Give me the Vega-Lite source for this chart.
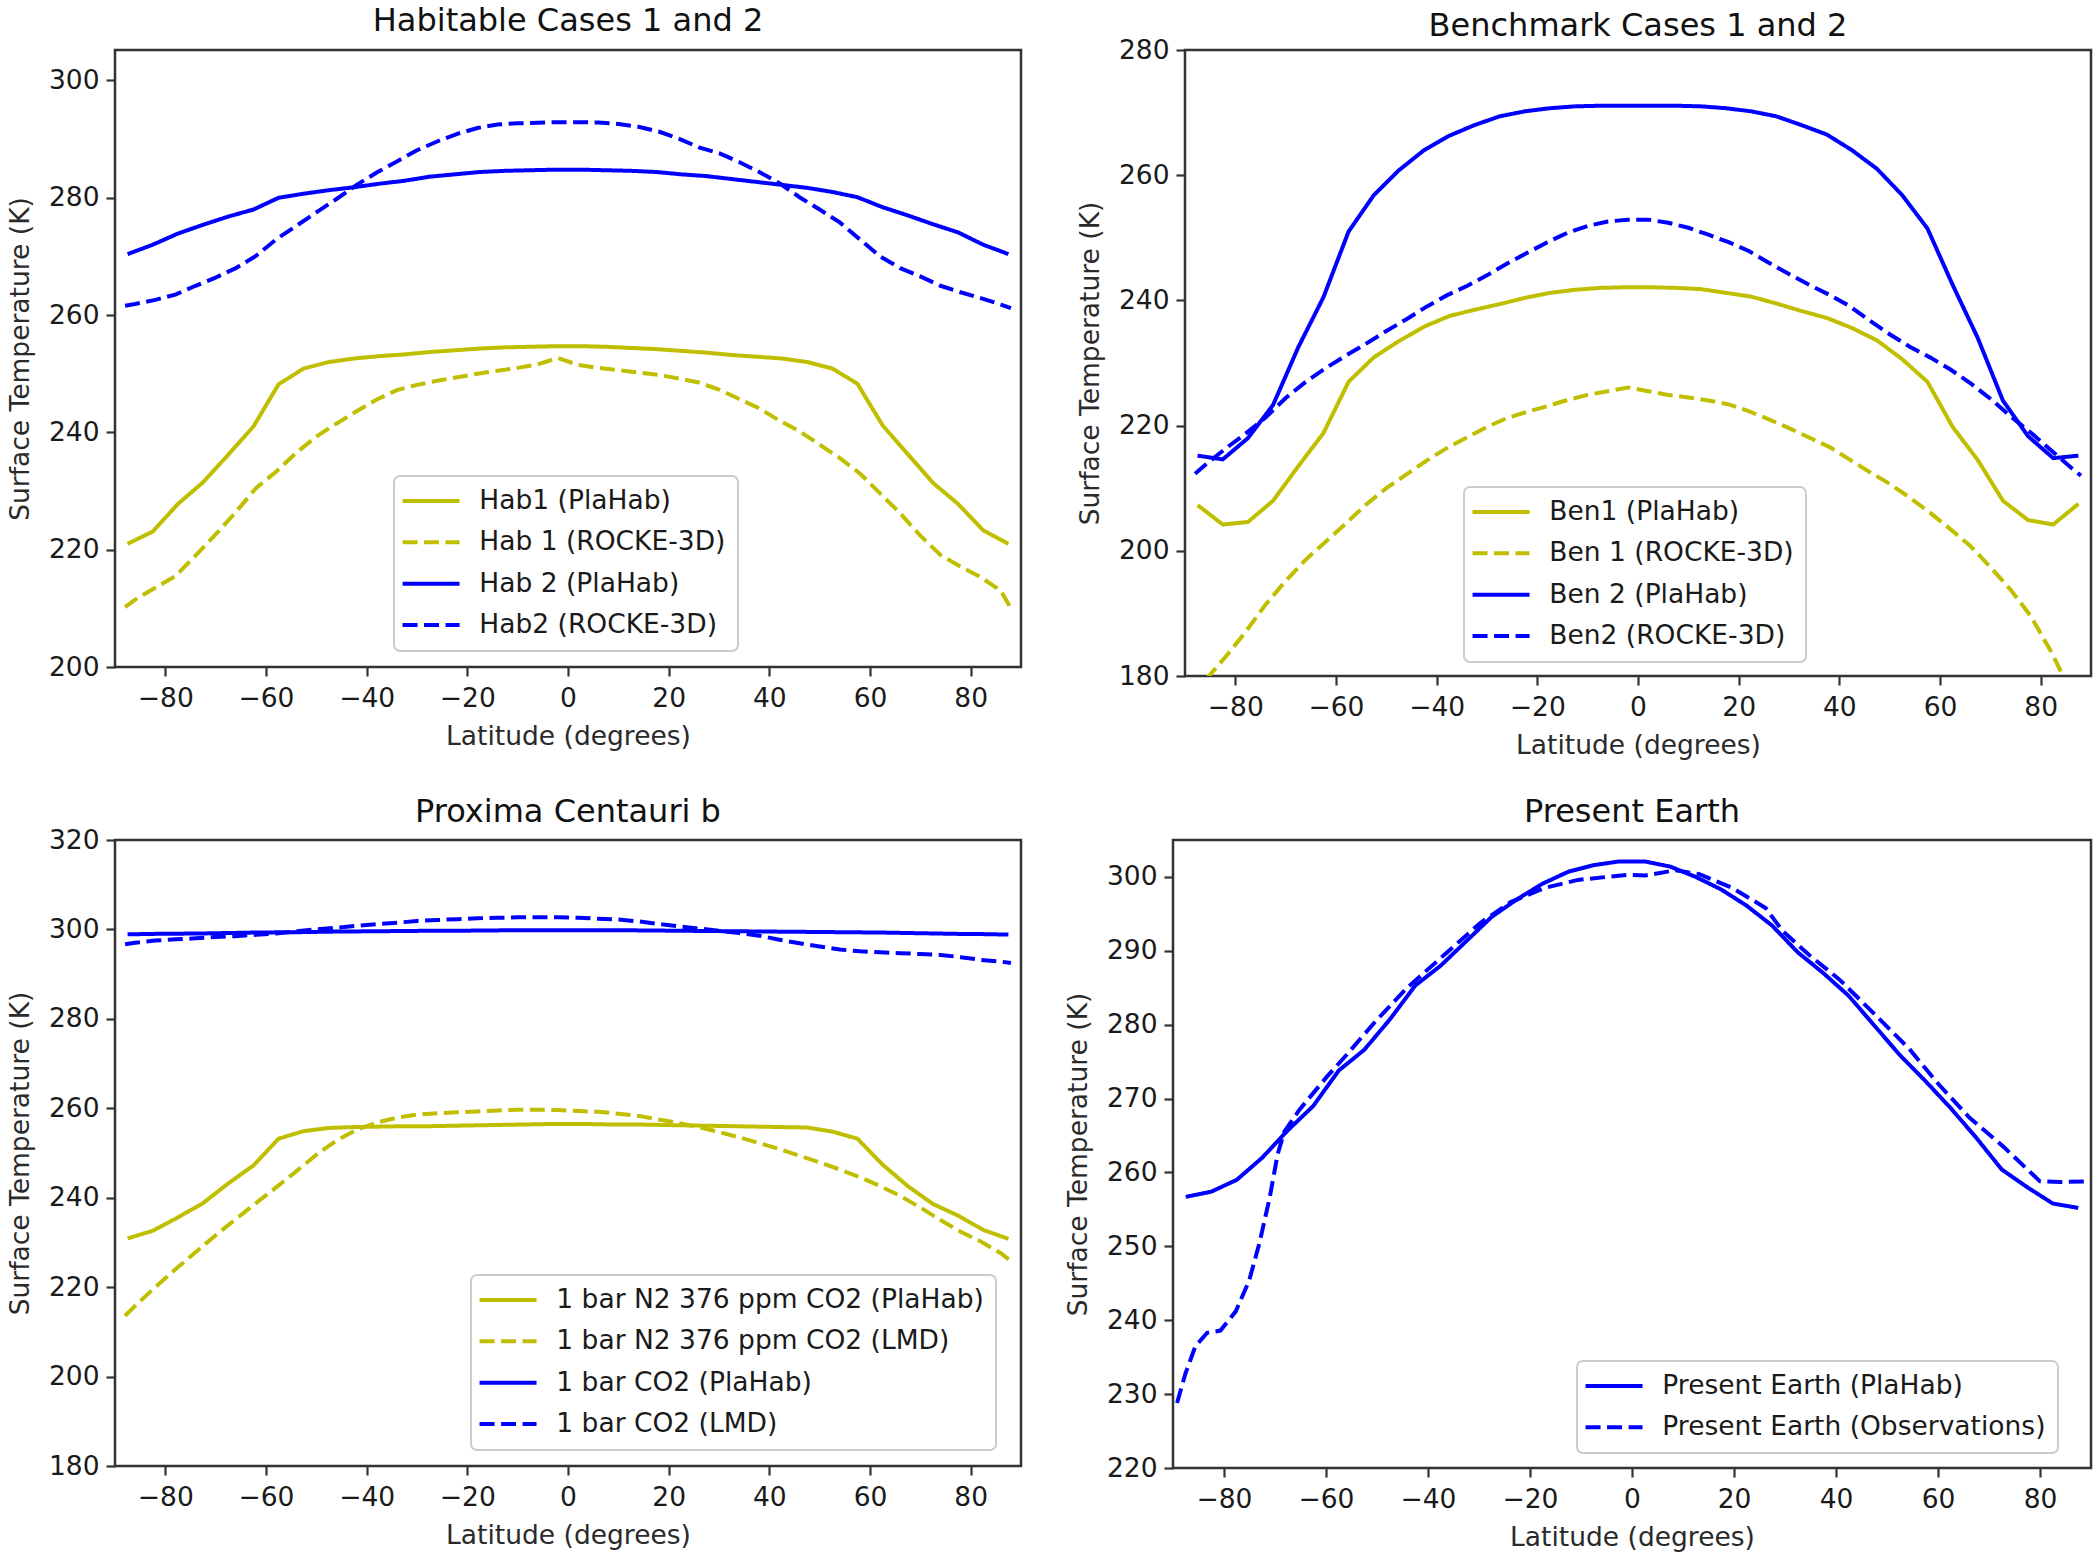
{
  "$schema": "https://vega.github.io/schema/vega-lite/v6.json",
  "background": "white",
  "padding": {"left": 6, "top": 3, "right": 2, "bottom": 2},
  "config": {
    "font": "DejaVu Sans",
    "view": {"stroke": "#333333", "strokeWidth": 2.5},
    "line": {"strokeWidth": 4, "clip": true},
    "axis": {"grid": false, "domain": false, "tickColor": "#333333", "tickWidth": 2.2, "tickSize": 9,
      "labelFont": "DejaVu Sans", "labelFontSize": 26.5, "labelColor": "#1a1a1a", "labelPadding": 7,
      "labelFlush": false, "labelOverlap": false,
      "titleFont": "DejaVu Sans", "titleFontSize": 26.5, "titleFontWeight": "normal", "titleColor": "#2a2a2a"},
    "axisX": {"titlePadding": 11, "labelPadding": 9.6},
    "axisY": {"titlePadding": 14},
    "title": {"font": "DejaVu Sans", "fontSize": 32, "fontWeight": "normal", "color": "#111111", "frame": "group", "anchor": "middle"},
    "legend": {"orient": "none", "labelFont": "DejaVu Sans", "labelFontSize": 26.5, "labelColor": "#1a1a1a", "labelLimit": 1000,
      "symbolType": "M-1,0H5", "symbolSize": 361, "symbolStrokeWidth": 4, "symbolOffset": -7, "labelOffset": 54,
      "rowPadding": 14.3, "padding": 11.8, "fillColor": "rgba(255,255,255,0.8)", "strokeColor": "#cccccc", "strokeWidth": 2, "cornerRadius": 6}
  },
  "datasets": {
    "hab": [
      {"s":"Hab1 (PlaHab)","lat":-87.5,"T":221.0},{"s":"Hab1 (PlaHab)","lat":-82.5,"T":223.1},{"s":"Hab1 (PlaHab)","lat":-77.5,"T":227.8},{"s":"Hab1 (PlaHab)","lat":-72.5,"T":231.5},{"s":"Hab1 (PlaHab)","lat":-67.5,"T":236.2},{"s":"Hab1 (PlaHab)","lat":-62.5,"T":241.0},{"s":"Hab1 (PlaHab)","lat":-57.5,"T":248.2},{"s":"Hab1 (PlaHab)","lat":-52.5,"T":250.9},{"s":"Hab1 (PlaHab)","lat":-47.5,"T":252.0},{"s":"Hab1 (PlaHab)","lat":-42.5,"T":252.6},{"s":"Hab1 (PlaHab)","lat":-37.5,"T":253.0},{"s":"Hab1 (PlaHab)","lat":-32.5,"T":253.3},{"s":"Hab1 (PlaHab)","lat":-27.5,"T":253.7},{"s":"Hab1 (PlaHab)","lat":-22.5,"T":254.0},{"s":"Hab1 (PlaHab)","lat":-17.5,"T":254.3},{"s":"Hab1 (PlaHab)","lat":-12.5,"T":254.5},{"s":"Hab1 (PlaHab)","lat":-7.5,"T":254.6},{"s":"Hab1 (PlaHab)","lat":-2.5,"T":254.7},
      {"s":"Hab1 (PlaHab)","lat":2.5,"T":254.7},{"s":"Hab1 (PlaHab)","lat":7.5,"T":254.6},{"s":"Hab1 (PlaHab)","lat":12.5,"T":254.4},{"s":"Hab1 (PlaHab)","lat":17.5,"T":254.2},{"s":"Hab1 (PlaHab)","lat":22.5,"T":253.9},{"s":"Hab1 (PlaHab)","lat":27.5,"T":253.6},{"s":"Hab1 (PlaHab)","lat":32.5,"T":253.2},{"s":"Hab1 (PlaHab)","lat":37.5,"T":252.9},{"s":"Hab1 (PlaHab)","lat":42.5,"T":252.6},{"s":"Hab1 (PlaHab)","lat":47.5,"T":252.0},{"s":"Hab1 (PlaHab)","lat":52.5,"T":250.9},{"s":"Hab1 (PlaHab)","lat":57.5,"T":248.3},{"s":"Hab1 (PlaHab)","lat":62.5,"T":241.2},{"s":"Hab1 (PlaHab)","lat":67.5,"T":236.3},{"s":"Hab1 (PlaHab)","lat":72.5,"T":231.4},{"s":"Hab1 (PlaHab)","lat":77.5,"T":227.8},{"s":"Hab1 (PlaHab)","lat":82.5,"T":223.3},{"s":"Hab1 (PlaHab)","lat":87.5,"T":221.0},

      {"s":"Hab 1 (ROCKE-3D)","lat":-88,"T":210.2},{"s":"Hab 1 (ROCKE-3D)","lat":-86,"T":211.5},{"s":"Hab 1 (ROCKE-3D)","lat":-82,"T":213.5},{"s":"Hab 1 (ROCKE-3D)","lat":-78,"T":215.5},{"s":"Hab 1 (ROCKE-3D)","lat":-74,"T":219.0},{"s":"Hab 1 (ROCKE-3D)","lat":-70,"T":222.6},{"s":"Hab 1 (ROCKE-3D)","lat":-66,"T":226.4},{"s":"Hab 1 (ROCKE-3D)","lat":-62,"T":230.5},{"s":"Hab 1 (ROCKE-3D)","lat":-58,"T":233.3},{"s":"Hab 1 (ROCKE-3D)","lat":-54,"T":236.5},{"s":"Hab 1 (ROCKE-3D)","lat":-50,"T":239.3},{"s":"Hab 1 (ROCKE-3D)","lat":-46,"T":241.5},{"s":"Hab 1 (ROCKE-3D)","lat":-42,"T":243.6},{"s":"Hab 1 (ROCKE-3D)","lat":-38,"T":245.6},{"s":"Hab 1 (ROCKE-3D)","lat":-34,"T":247.2},{"s":"Hab 1 (ROCKE-3D)","lat":-30,"T":248.1},{"s":"Hab 1 (ROCKE-3D)","lat":-26,"T":248.8},{"s":"Hab 1 (ROCKE-3D)","lat":-22,"T":249.4},{"s":"Hab 1 (ROCKE-3D)","lat":-18,"T":250.0},{"s":"Hab 1 (ROCKE-3D)","lat":-14,"T":250.5},{"s":"Hab 1 (ROCKE-3D)","lat":-10,"T":251.0},{"s":"Hab 1 (ROCKE-3D)","lat":-6,"T":251.6},{"s":"Hab 1 (ROCKE-3D)","lat":-2,"T":252.7},
      {"s":"Hab 1 (ROCKE-3D)","lat":2,"T":251.5},{"s":"Hab 1 (ROCKE-3D)","lat":6,"T":251.0},{"s":"Hab 1 (ROCKE-3D)","lat":10,"T":250.6},{"s":"Hab 1 (ROCKE-3D)","lat":14,"T":250.2},{"s":"Hab 1 (ROCKE-3D)","lat":18,"T":249.8},{"s":"Hab 1 (ROCKE-3D)","lat":22,"T":249.2},{"s":"Hab 1 (ROCKE-3D)","lat":26,"T":248.5},{"s":"Hab 1 (ROCKE-3D)","lat":30,"T":247.3},{"s":"Hab 1 (ROCKE-3D)","lat":34,"T":245.7},{"s":"Hab 1 (ROCKE-3D)","lat":38,"T":244.1},{"s":"Hab 1 (ROCKE-3D)","lat":42,"T":242.0},{"s":"Hab 1 (ROCKE-3D)","lat":46,"T":240.2},{"s":"Hab 1 (ROCKE-3D)","lat":50,"T":237.9},{"s":"Hab 1 (ROCKE-3D)","lat":54,"T":235.6},{"s":"Hab 1 (ROCKE-3D)","lat":58,"T":233.0},{"s":"Hab 1 (ROCKE-3D)","lat":62,"T":229.6},{"s":"Hab 1 (ROCKE-3D)","lat":66,"T":226.2},{"s":"Hab 1 (ROCKE-3D)","lat":70,"T":222.4},{"s":"Hab 1 (ROCKE-3D)","lat":74,"T":219.1},{"s":"Hab 1 (ROCKE-3D)","lat":78,"T":217.1},{"s":"Hab 1 (ROCKE-3D)","lat":82,"T":215.3},{"s":"Hab 1 (ROCKE-3D)","lat":86,"T":213.0},{"s":"Hab 1 (ROCKE-3D)","lat":88,"T":210.0},

      {"s":"Hab 2 (PlaHab)","lat":-87.5,"T":270.4},{"s":"Hab 2 (PlaHab)","lat":-82.5,"T":272.0},{"s":"Hab 2 (PlaHab)","lat":-77.5,"T":273.9},{"s":"Hab 2 (PlaHab)","lat":-72.5,"T":275.4},{"s":"Hab 2 (PlaHab)","lat":-67.5,"T":276.8},{"s":"Hab 2 (PlaHab)","lat":-62.5,"T":278.0},{"s":"Hab 2 (PlaHab)","lat":-57.5,"T":280.0},{"s":"Hab 2 (PlaHab)","lat":-52.5,"T":280.7},{"s":"Hab 2 (PlaHab)","lat":-47.5,"T":281.3},{"s":"Hab 2 (PlaHab)","lat":-42.5,"T":281.8},{"s":"Hab 2 (PlaHab)","lat":-37.5,"T":282.4},{"s":"Hab 2 (PlaHab)","lat":-32.5,"T":282.9},{"s":"Hab 2 (PlaHab)","lat":-27.5,"T":283.6},{"s":"Hab 2 (PlaHab)","lat":-22.5,"T":284.0},{"s":"Hab 2 (PlaHab)","lat":-17.5,"T":284.4},{"s":"Hab 2 (PlaHab)","lat":-12.5,"T":284.6},{"s":"Hab 2 (PlaHab)","lat":-7.5,"T":284.7},{"s":"Hab 2 (PlaHab)","lat":-2.5,"T":284.8},
      {"s":"Hab 2 (PlaHab)","lat":2.5,"T":284.8},{"s":"Hab 2 (PlaHab)","lat":7.5,"T":284.7},{"s":"Hab 2 (PlaHab)","lat":12.5,"T":284.6},{"s":"Hab 2 (PlaHab)","lat":17.5,"T":284.4},{"s":"Hab 2 (PlaHab)","lat":22.5,"T":284.0},{"s":"Hab 2 (PlaHab)","lat":27.5,"T":283.7},{"s":"Hab 2 (PlaHab)","lat":32.5,"T":283.2},{"s":"Hab 2 (PlaHab)","lat":37.5,"T":282.7},{"s":"Hab 2 (PlaHab)","lat":42.5,"T":282.2},{"s":"Hab 2 (PlaHab)","lat":47.5,"T":281.7},{"s":"Hab 2 (PlaHab)","lat":52.5,"T":281.0},{"s":"Hab 2 (PlaHab)","lat":57.5,"T":280.1},{"s":"Hab 2 (PlaHab)","lat":62.5,"T":278.4},{"s":"Hab 2 (PlaHab)","lat":67.5,"T":277.0},{"s":"Hab 2 (PlaHab)","lat":72.5,"T":275.5},{"s":"Hab 2 (PlaHab)","lat":77.5,"T":274.1},{"s":"Hab 2 (PlaHab)","lat":82.5,"T":272.0},{"s":"Hab 2 (PlaHab)","lat":87.5,"T":270.4},

      {"s":"Hab2 (ROCKE-3D)","lat":-88,"T":261.6},{"s":"Hab2 (ROCKE-3D)","lat":-86,"T":261.9},{"s":"Hab2 (ROCKE-3D)","lat":-82,"T":262.6},{"s":"Hab2 (ROCKE-3D)","lat":-78,"T":263.5},{"s":"Hab2 (ROCKE-3D)","lat":-74,"T":265.0},{"s":"Hab2 (ROCKE-3D)","lat":-70,"T":266.4},{"s":"Hab2 (ROCKE-3D)","lat":-66,"T":268.0},{"s":"Hab2 (ROCKE-3D)","lat":-62,"T":270.1},{"s":"Hab2 (ROCKE-3D)","lat":-58,"T":272.9},{"s":"Hab2 (ROCKE-3D)","lat":-54,"T":275.2},{"s":"Hab2 (ROCKE-3D)","lat":-50,"T":277.5},{"s":"Hab2 (ROCKE-3D)","lat":-46,"T":279.8},{"s":"Hab2 (ROCKE-3D)","lat":-42,"T":282.2},{"s":"Hab2 (ROCKE-3D)","lat":-38,"T":284.3},{"s":"Hab2 (ROCKE-3D)","lat":-34,"T":286.2},{"s":"Hab2 (ROCKE-3D)","lat":-30,"T":288.1},{"s":"Hab2 (ROCKE-3D)","lat":-26,"T":289.6},{"s":"Hab2 (ROCKE-3D)","lat":-22,"T":290.9},{"s":"Hab2 (ROCKE-3D)","lat":-18,"T":291.9},{"s":"Hab2 (ROCKE-3D)","lat":-14,"T":292.5},{"s":"Hab2 (ROCKE-3D)","lat":-10,"T":292.7},{"s":"Hab2 (ROCKE-3D)","lat":-6,"T":292.8},{"s":"Hab2 (ROCKE-3D)","lat":-2,"T":292.9},
      {"s":"Hab2 (ROCKE-3D)","lat":2,"T":292.9},{"s":"Hab2 (ROCKE-3D)","lat":6,"T":292.85},{"s":"Hab2 (ROCKE-3D)","lat":10,"T":292.6},{"s":"Hab2 (ROCKE-3D)","lat":14,"T":292.1},{"s":"Hab2 (ROCKE-3D)","lat":18,"T":291.3},{"s":"Hab2 (ROCKE-3D)","lat":22,"T":290.1},{"s":"Hab2 (ROCKE-3D)","lat":26,"T":288.6},{"s":"Hab2 (ROCKE-3D)","lat":30,"T":287.6},{"s":"Hab2 (ROCKE-3D)","lat":34,"T":286.1},{"s":"Hab2 (ROCKE-3D)","lat":38,"T":284.4},{"s":"Hab2 (ROCKE-3D)","lat":42,"T":282.5},{"s":"Hab2 (ROCKE-3D)","lat":46,"T":280.1},{"s":"Hab2 (ROCKE-3D)","lat":50,"T":278.0},{"s":"Hab2 (ROCKE-3D)","lat":54,"T":275.8},{"s":"Hab2 (ROCKE-3D)","lat":58,"T":272.9},{"s":"Hab2 (ROCKE-3D)","lat":62,"T":270.0},{"s":"Hab2 (ROCKE-3D)","lat":66,"T":268.0},{"s":"Hab2 (ROCKE-3D)","lat":70,"T":266.6},{"s":"Hab2 (ROCKE-3D)","lat":74,"T":265.0},{"s":"Hab2 (ROCKE-3D)","lat":78,"T":263.9},{"s":"Hab2 (ROCKE-3D)","lat":82,"T":262.9},{"s":"Hab2 (ROCKE-3D)","lat":86,"T":261.8},{"s":"Hab2 (ROCKE-3D)","lat":88,"T":261.2}
    ],
    "ben": [
      {"s":"Ben1 (PlaHab)","lat":-87.5,"T":207.3},{"s":"Ben1 (PlaHab)","lat":-82.5,"T":204.2},{"s":"Ben1 (PlaHab)","lat":-77.5,"T":204.6},{"s":"Ben1 (PlaHab)","lat":-72.5,"T":208.0},{"s":"Ben1 (PlaHab)","lat":-67.5,"T":213.5},{"s":"Ben1 (PlaHab)","lat":-62.5,"T":218.8},{"s":"Ben1 (PlaHab)","lat":-57.5,"T":227.0},{"s":"Ben1 (PlaHab)","lat":-52.5,"T":230.9},{"s":"Ben1 (PlaHab)","lat":-47.5,"T":233.5},{"s":"Ben1 (PlaHab)","lat":-42.5,"T":235.8},{"s":"Ben1 (PlaHab)","lat":-37.5,"T":237.5},{"s":"Ben1 (PlaHab)","lat":-32.5,"T":238.5},{"s":"Ben1 (PlaHab)","lat":-27.5,"T":239.4},{"s":"Ben1 (PlaHab)","lat":-22.5,"T":240.4},{"s":"Ben1 (PlaHab)","lat":-17.5,"T":241.2},{"s":"Ben1 (PlaHab)","lat":-12.5,"T":241.7},{"s":"Ben1 (PlaHab)","lat":-7.5,"T":242.0},{"s":"Ben1 (PlaHab)","lat":-2.5,"T":242.1},
      {"s":"Ben1 (PlaHab)","lat":2.5,"T":242.1},{"s":"Ben1 (PlaHab)","lat":7.5,"T":242.0},{"s":"Ben1 (PlaHab)","lat":12.5,"T":241.8},{"s":"Ben1 (PlaHab)","lat":17.5,"T":241.2},{"s":"Ben1 (PlaHab)","lat":22.5,"T":240.6},{"s":"Ben1 (PlaHab)","lat":27.5,"T":239.5},{"s":"Ben1 (PlaHab)","lat":32.5,"T":238.3},{"s":"Ben1 (PlaHab)","lat":37.5,"T":237.2},{"s":"Ben1 (PlaHab)","lat":42.5,"T":235.6},{"s":"Ben1 (PlaHab)","lat":47.5,"T":233.6},{"s":"Ben1 (PlaHab)","lat":52.5,"T":230.6},{"s":"Ben1 (PlaHab)","lat":57.5,"T":227.0},{"s":"Ben1 (PlaHab)","lat":62.5,"T":219.8},{"s":"Ben1 (PlaHab)","lat":67.5,"T":214.5},{"s":"Ben1 (PlaHab)","lat":72.5,"T":208.0},{"s":"Ben1 (PlaHab)","lat":77.5,"T":204.9},{"s":"Ben1 (PlaHab)","lat":82.5,"T":204.2},{"s":"Ben1 (PlaHab)","lat":87.5,"T":207.5},

      {"s":"Ben 1 (ROCKE-3D)","lat":-88,"T":176.5},{"s":"Ben 1 (ROCKE-3D)","lat":-86,"T":179.3},{"s":"Ben 1 (ROCKE-3D)","lat":-82,"T":183.0},{"s":"Ben 1 (ROCKE-3D)","lat":-78,"T":187.0},{"s":"Ben 1 (ROCKE-3D)","lat":-74,"T":191.4},{"s":"Ben 1 (ROCKE-3D)","lat":-70,"T":195.2},{"s":"Ben 1 (ROCKE-3D)","lat":-66,"T":198.6},{"s":"Ben 1 (ROCKE-3D)","lat":-62,"T":201.5},{"s":"Ben 1 (ROCKE-3D)","lat":-58,"T":204.4},{"s":"Ben 1 (ROCKE-3D)","lat":-54,"T":207.4},{"s":"Ben 1 (ROCKE-3D)","lat":-50,"T":210.0},{"s":"Ben 1 (ROCKE-3D)","lat":-46,"T":212.2},{"s":"Ben 1 (ROCKE-3D)","lat":-42,"T":214.4},{"s":"Ben 1 (ROCKE-3D)","lat":-38,"T":216.4},{"s":"Ben 1 (ROCKE-3D)","lat":-34,"T":218.1},{"s":"Ben 1 (ROCKE-3D)","lat":-30,"T":219.8},{"s":"Ben 1 (ROCKE-3D)","lat":-26,"T":221.2},{"s":"Ben 1 (ROCKE-3D)","lat":-22,"T":222.2},{"s":"Ben 1 (ROCKE-3D)","lat":-18,"T":223.1},{"s":"Ben 1 (ROCKE-3D)","lat":-14,"T":224.1},{"s":"Ben 1 (ROCKE-3D)","lat":-10,"T":224.9},{"s":"Ben 1 (ROCKE-3D)","lat":-6,"T":225.5},{"s":"Ben 1 (ROCKE-3D)","lat":-2,"T":226.1},
      {"s":"Ben 1 (ROCKE-3D)","lat":2,"T":225.5},{"s":"Ben 1 (ROCKE-3D)","lat":6,"T":224.9},{"s":"Ben 1 (ROCKE-3D)","lat":10,"T":224.5},{"s":"Ben 1 (ROCKE-3D)","lat":14,"T":224.0},{"s":"Ben 1 (ROCKE-3D)","lat":18,"T":223.4},{"s":"Ben 1 (ROCKE-3D)","lat":22,"T":222.3},{"s":"Ben 1 (ROCKE-3D)","lat":26,"T":221.0},{"s":"Ben 1 (ROCKE-3D)","lat":30,"T":219.6},{"s":"Ben 1 (ROCKE-3D)","lat":34,"T":218.1},{"s":"Ben 1 (ROCKE-3D)","lat":38,"T":216.6},{"s":"Ben 1 (ROCKE-3D)","lat":42,"T":214.6},{"s":"Ben 1 (ROCKE-3D)","lat":46,"T":212.6},{"s":"Ben 1 (ROCKE-3D)","lat":50,"T":210.7},{"s":"Ben 1 (ROCKE-3D)","lat":54,"T":208.5},{"s":"Ben 1 (ROCKE-3D)","lat":58,"T":206.1},{"s":"Ben 1 (ROCKE-3D)","lat":62,"T":203.5},{"s":"Ben 1 (ROCKE-3D)","lat":66,"T":200.8},{"s":"Ben 1 (ROCKE-3D)","lat":70,"T":197.4},{"s":"Ben 1 (ROCKE-3D)","lat":74,"T":193.8},{"s":"Ben 1 (ROCKE-3D)","lat":78,"T":189.6},{"s":"Ben 1 (ROCKE-3D)","lat":82,"T":184.0},{"s":"Ben 1 (ROCKE-3D)","lat":86,"T":177.5},{"s":"Ben 1 (ROCKE-3D)","lat":88,"T":173.5},

      {"s":"Ben 2 (PlaHab)","lat":-87.5,"T":215.2},{"s":"Ben 2 (PlaHab)","lat":-82.5,"T":214.6},{"s":"Ben 2 (PlaHab)","lat":-77.5,"T":218.0},{"s":"Ben 2 (PlaHab)","lat":-72.5,"T":223.3},{"s":"Ben 2 (PlaHab)","lat":-67.5,"T":232.5},{"s":"Ben 2 (PlaHab)","lat":-62.5,"T":240.5},{"s":"Ben 2 (PlaHab)","lat":-57.5,"T":251.0},{"s":"Ben 2 (PlaHab)","lat":-52.5,"T":256.8},{"s":"Ben 2 (PlaHab)","lat":-47.5,"T":260.8},{"s":"Ben 2 (PlaHab)","lat":-42.5,"T":264.0},{"s":"Ben 2 (PlaHab)","lat":-37.5,"T":266.3},{"s":"Ben 2 (PlaHab)","lat":-32.5,"T":268.0},{"s":"Ben 2 (PlaHab)","lat":-27.5,"T":269.4},{"s":"Ben 2 (PlaHab)","lat":-22.5,"T":270.2},{"s":"Ben 2 (PlaHab)","lat":-17.5,"T":270.7},{"s":"Ben 2 (PlaHab)","lat":-12.5,"T":271.0},{"s":"Ben 2 (PlaHab)","lat":-7.5,"T":271.1},{"s":"Ben 2 (PlaHab)","lat":-2.5,"T":271.1},
      {"s":"Ben 2 (PlaHab)","lat":2.5,"T":271.1},{"s":"Ben 2 (PlaHab)","lat":7.5,"T":271.1},{"s":"Ben 2 (PlaHab)","lat":12.5,"T":271.0},{"s":"Ben 2 (PlaHab)","lat":17.5,"T":270.7},{"s":"Ben 2 (PlaHab)","lat":22.5,"T":270.2},{"s":"Ben 2 (PlaHab)","lat":27.5,"T":269.4},{"s":"Ben 2 (PlaHab)","lat":32.5,"T":268.0},{"s":"Ben 2 (PlaHab)","lat":37.5,"T":266.5},{"s":"Ben 2 (PlaHab)","lat":42.5,"T":264.0},{"s":"Ben 2 (PlaHab)","lat":47.5,"T":261.0},{"s":"Ben 2 (PlaHab)","lat":52.5,"T":256.8},{"s":"Ben 2 (PlaHab)","lat":57.5,"T":251.5},{"s":"Ben 2 (PlaHab)","lat":62.5,"T":242.5},{"s":"Ben 2 (PlaHab)","lat":67.5,"T":234.0},{"s":"Ben 2 (PlaHab)","lat":72.5,"T":224.0},{"s":"Ben 2 (PlaHab)","lat":77.5,"T":218.3},{"s":"Ben 2 (PlaHab)","lat":82.5,"T":214.8},{"s":"Ben 2 (PlaHab)","lat":87.5,"T":215.2},

      {"s":"Ben2 (ROCKE-3D)","lat":-88,"T":212.3},{"s":"Ben2 (ROCKE-3D)","lat":-86,"T":213.7},{"s":"Ben2 (ROCKE-3D)","lat":-82,"T":216.3},{"s":"Ben2 (ROCKE-3D)","lat":-78,"T":218.7},{"s":"Ben2 (ROCKE-3D)","lat":-74,"T":221.3},{"s":"Ben2 (ROCKE-3D)","lat":-70,"T":224.4},{"s":"Ben2 (ROCKE-3D)","lat":-66,"T":227.0},{"s":"Ben2 (ROCKE-3D)","lat":-62,"T":229.2},{"s":"Ben2 (ROCKE-3D)","lat":-58,"T":231.2},{"s":"Ben2 (ROCKE-3D)","lat":-54,"T":233.1},{"s":"Ben2 (ROCKE-3D)","lat":-50,"T":235.1},{"s":"Ben2 (ROCKE-3D)","lat":-46,"T":237.0},{"s":"Ben2 (ROCKE-3D)","lat":-42,"T":239.0},{"s":"Ben2 (ROCKE-3D)","lat":-38,"T":240.8},{"s":"Ben2 (ROCKE-3D)","lat":-34,"T":242.3},{"s":"Ben2 (ROCKE-3D)","lat":-30,"T":244.0},{"s":"Ben2 (ROCKE-3D)","lat":-26,"T":245.9},{"s":"Ben2 (ROCKE-3D)","lat":-22,"T":247.6},{"s":"Ben2 (ROCKE-3D)","lat":-18,"T":249.3},{"s":"Ben2 (ROCKE-3D)","lat":-14,"T":250.8},{"s":"Ben2 (ROCKE-3D)","lat":-10,"T":251.9},{"s":"Ben2 (ROCKE-3D)","lat":-6,"T":252.6},{"s":"Ben2 (ROCKE-3D)","lat":-2,"T":252.9},
      {"s":"Ben2 (ROCKE-3D)","lat":2,"T":252.9},{"s":"Ben2 (ROCKE-3D)","lat":6,"T":252.4},{"s":"Ben2 (ROCKE-3D)","lat":10,"T":251.6},{"s":"Ben2 (ROCKE-3D)","lat":14,"T":250.5},{"s":"Ben2 (ROCKE-3D)","lat":18,"T":249.3},{"s":"Ben2 (ROCKE-3D)","lat":22,"T":247.9},{"s":"Ben2 (ROCKE-3D)","lat":26,"T":246.0},{"s":"Ben2 (ROCKE-3D)","lat":30,"T":244.2},{"s":"Ben2 (ROCKE-3D)","lat":34,"T":242.5},{"s":"Ben2 (ROCKE-3D)","lat":38,"T":240.9},{"s":"Ben2 (ROCKE-3D)","lat":42,"T":239.1},{"s":"Ben2 (ROCKE-3D)","lat":46,"T":236.8},{"s":"Ben2 (ROCKE-3D)","lat":50,"T":234.6},{"s":"Ben2 (ROCKE-3D)","lat":54,"T":232.6},{"s":"Ben2 (ROCKE-3D)","lat":58,"T":230.9},{"s":"Ben2 (ROCKE-3D)","lat":62,"T":229.0},{"s":"Ben2 (ROCKE-3D)","lat":66,"T":226.8},{"s":"Ben2 (ROCKE-3D)","lat":70,"T":224.3},{"s":"Ben2 (ROCKE-3D)","lat":74,"T":221.5},{"s":"Ben2 (ROCKE-3D)","lat":78,"T":218.9},{"s":"Ben2 (ROCKE-3D)","lat":82,"T":216.1},{"s":"Ben2 (ROCKE-3D)","lat":86,"T":213.3},{"s":"Ben2 (ROCKE-3D)","lat":88,"T":212.0}
    ],
    "prox": [
      {"s":"1 bar N2 376 ppm CO2 (PlaHab)","lat":-87.5,"T":230.9},{"s":"1 bar N2 376 ppm CO2 (PlaHab)","lat":-82.5,"T":232.6},{"s":"1 bar N2 376 ppm CO2 (PlaHab)","lat":-77.5,"T":235.6},{"s":"1 bar N2 376 ppm CO2 (PlaHab)","lat":-72.5,"T":238.8},{"s":"1 bar N2 376 ppm CO2 (PlaHab)","lat":-67.5,"T":243.2},{"s":"1 bar N2 376 ppm CO2 (PlaHab)","lat":-62.5,"T":247.2},{"s":"1 bar N2 376 ppm CO2 (PlaHab)","lat":-57.5,"T":253.2},{"s":"1 bar N2 376 ppm CO2 (PlaHab)","lat":-52.5,"T":254.9},{"s":"1 bar N2 376 ppm CO2 (PlaHab)","lat":-47.5,"T":255.6},{"s":"1 bar N2 376 ppm CO2 (PlaHab)","lat":-42.5,"T":255.8},{"s":"1 bar N2 376 ppm CO2 (PlaHab)","lat":-37.5,"T":255.9},{"s":"1 bar N2 376 ppm CO2 (PlaHab)","lat":-32.5,"T":256.0},{"s":"1 bar N2 376 ppm CO2 (PlaHab)","lat":-27.5,"T":256.0},{"s":"1 bar N2 376 ppm CO2 (PlaHab)","lat":-22.5,"T":256.1},{"s":"1 bar N2 376 ppm CO2 (PlaHab)","lat":-17.5,"T":256.2},{"s":"1 bar N2 376 ppm CO2 (PlaHab)","lat":-12.5,"T":256.3},{"s":"1 bar N2 376 ppm CO2 (PlaHab)","lat":-7.5,"T":256.4},{"s":"1 bar N2 376 ppm CO2 (PlaHab)","lat":-2.5,"T":256.5},
      {"s":"1 bar N2 376 ppm CO2 (PlaHab)","lat":2.5,"T":256.5},{"s":"1 bar N2 376 ppm CO2 (PlaHab)","lat":7.5,"T":256.4},{"s":"1 bar N2 376 ppm CO2 (PlaHab)","lat":12.5,"T":256.4},{"s":"1 bar N2 376 ppm CO2 (PlaHab)","lat":17.5,"T":256.3},{"s":"1 bar N2 376 ppm CO2 (PlaHab)","lat":22.5,"T":256.2},{"s":"1 bar N2 376 ppm CO2 (PlaHab)","lat":27.5,"T":256.1},{"s":"1 bar N2 376 ppm CO2 (PlaHab)","lat":32.5,"T":256.0},{"s":"1 bar N2 376 ppm CO2 (PlaHab)","lat":37.5,"T":255.9},{"s":"1 bar N2 376 ppm CO2 (PlaHab)","lat":42.5,"T":255.8},{"s":"1 bar N2 376 ppm CO2 (PlaHab)","lat":47.5,"T":255.7},{"s":"1 bar N2 376 ppm CO2 (PlaHab)","lat":52.5,"T":254.8},{"s":"1 bar N2 376 ppm CO2 (PlaHab)","lat":57.5,"T":253.2},{"s":"1 bar N2 376 ppm CO2 (PlaHab)","lat":62.5,"T":247.4},{"s":"1 bar N2 376 ppm CO2 (PlaHab)","lat":67.5,"T":242.6},{"s":"1 bar N2 376 ppm CO2 (PlaHab)","lat":72.5,"T":238.6},{"s":"1 bar N2 376 ppm CO2 (PlaHab)","lat":77.5,"T":236.0},{"s":"1 bar N2 376 ppm CO2 (PlaHab)","lat":82.5,"T":232.8},{"s":"1 bar N2 376 ppm CO2 (PlaHab)","lat":87.5,"T":230.8},

      {"s":"1 bar N2 376 ppm CO2 (LMD)","lat":-88,"T":213.6},{"s":"1 bar N2 376 ppm CO2 (LMD)","lat":-86,"T":215.8},{"s":"1 bar N2 376 ppm CO2 (LMD)","lat":-82,"T":220.0},{"s":"1 bar N2 376 ppm CO2 (LMD)","lat":-78,"T":224.0},{"s":"1 bar N2 376 ppm CO2 (LMD)","lat":-74,"T":227.8},{"s":"1 bar N2 376 ppm CO2 (LMD)","lat":-70,"T":231.6},{"s":"1 bar N2 376 ppm CO2 (LMD)","lat":-66,"T":235.2},{"s":"1 bar N2 376 ppm CO2 (LMD)","lat":-62,"T":238.8},{"s":"1 bar N2 376 ppm CO2 (LMD)","lat":-58,"T":242.3},{"s":"1 bar N2 376 ppm CO2 (LMD)","lat":-54,"T":245.9},{"s":"1 bar N2 376 ppm CO2 (LMD)","lat":-50,"T":249.6},{"s":"1 bar N2 376 ppm CO2 (LMD)","lat":-46,"T":252.8},{"s":"1 bar N2 376 ppm CO2 (LMD)","lat":-42,"T":255.2},{"s":"1 bar N2 376 ppm CO2 (LMD)","lat":-38,"T":256.8},{"s":"1 bar N2 376 ppm CO2 (LMD)","lat":-34,"T":257.9},{"s":"1 bar N2 376 ppm CO2 (LMD)","lat":-30,"T":258.6},{"s":"1 bar N2 376 ppm CO2 (LMD)","lat":-26,"T":258.9},{"s":"1 bar N2 376 ppm CO2 (LMD)","lat":-22,"T":259.1},{"s":"1 bar N2 376 ppm CO2 (LMD)","lat":-18,"T":259.3},{"s":"1 bar N2 376 ppm CO2 (LMD)","lat":-14,"T":259.5},{"s":"1 bar N2 376 ppm CO2 (LMD)","lat":-10,"T":259.7},{"s":"1 bar N2 376 ppm CO2 (LMD)","lat":-6,"T":259.7},{"s":"1 bar N2 376 ppm CO2 (LMD)","lat":-2,"T":259.6},
      {"s":"1 bar N2 376 ppm CO2 (LMD)","lat":2,"T":259.4},{"s":"1 bar N2 376 ppm CO2 (LMD)","lat":6,"T":259.2},{"s":"1 bar N2 376 ppm CO2 (LMD)","lat":10,"T":258.8},{"s":"1 bar N2 376 ppm CO2 (LMD)","lat":14,"T":258.3},{"s":"1 bar N2 376 ppm CO2 (LMD)","lat":18,"T":257.5},{"s":"1 bar N2 376 ppm CO2 (LMD)","lat":22,"T":256.7},{"s":"1 bar N2 376 ppm CO2 (LMD)","lat":26,"T":255.8},{"s":"1 bar N2 376 ppm CO2 (LMD)","lat":30,"T":254.7},{"s":"1 bar N2 376 ppm CO2 (LMD)","lat":34,"T":253.5},{"s":"1 bar N2 376 ppm CO2 (LMD)","lat":38,"T":252.2},{"s":"1 bar N2 376 ppm CO2 (LMD)","lat":42,"T":250.9},{"s":"1 bar N2 376 ppm CO2 (LMD)","lat":46,"T":249.4},{"s":"1 bar N2 376 ppm CO2 (LMD)","lat":50,"T":247.9},{"s":"1 bar N2 376 ppm CO2 (LMD)","lat":54,"T":246.3},{"s":"1 bar N2 376 ppm CO2 (LMD)","lat":58,"T":244.6},{"s":"1 bar N2 376 ppm CO2 (LMD)","lat":62,"T":242.6},{"s":"1 bar N2 376 ppm CO2 (LMD)","lat":66,"T":240.4},{"s":"1 bar N2 376 ppm CO2 (LMD)","lat":70,"T":237.8},{"s":"1 bar N2 376 ppm CO2 (LMD)","lat":74,"T":235.0},{"s":"1 bar N2 376 ppm CO2 (LMD)","lat":78,"T":232.4},{"s":"1 bar N2 376 ppm CO2 (LMD)","lat":82,"T":230.2},{"s":"1 bar N2 376 ppm CO2 (LMD)","lat":86,"T":227.6},{"s":"1 bar N2 376 ppm CO2 (LMD)","lat":88,"T":225.8},

      {"s":"1 bar CO2 (PlaHab)","lat":-87.5,"T":298.9},{"s":"1 bar CO2 (PlaHab)","lat":-82.5,"T":299.0},{"s":"1 bar CO2 (PlaHab)","lat":-77.5,"T":299.05},{"s":"1 bar CO2 (PlaHab)","lat":-72.5,"T":299.1},{"s":"1 bar CO2 (PlaHab)","lat":-67.5,"T":299.2},{"s":"1 bar CO2 (PlaHab)","lat":-62.5,"T":299.3},{"s":"1 bar CO2 (PlaHab)","lat":-57.5,"T":299.35},{"s":"1 bar CO2 (PlaHab)","lat":-52.5,"T":299.4},{"s":"1 bar CO2 (PlaHab)","lat":-47.5,"T":299.5},{"s":"1 bar CO2 (PlaHab)","lat":-42.5,"T":299.55},{"s":"1 bar CO2 (PlaHab)","lat":-37.5,"T":299.6},{"s":"1 bar CO2 (PlaHab)","lat":-32.5,"T":299.65},{"s":"1 bar CO2 (PlaHab)","lat":-27.5,"T":299.7},{"s":"1 bar CO2 (PlaHab)","lat":-22.5,"T":299.7},{"s":"1 bar CO2 (PlaHab)","lat":-17.5,"T":299.75},{"s":"1 bar CO2 (PlaHab)","lat":-12.5,"T":299.8},{"s":"1 bar CO2 (PlaHab)","lat":-7.5,"T":299.8},{"s":"1 bar CO2 (PlaHab)","lat":-2.5,"T":299.8},
      {"s":"1 bar CO2 (PlaHab)","lat":2.5,"T":299.8},{"s":"1 bar CO2 (PlaHab)","lat":7.5,"T":299.8},{"s":"1 bar CO2 (PlaHab)","lat":12.5,"T":299.8},{"s":"1 bar CO2 (PlaHab)","lat":17.5,"T":299.75},{"s":"1 bar CO2 (PlaHab)","lat":22.5,"T":299.7},{"s":"1 bar CO2 (PlaHab)","lat":27.5,"T":299.65},{"s":"1 bar CO2 (PlaHab)","lat":32.5,"T":299.6},{"s":"1 bar CO2 (PlaHab)","lat":37.5,"T":299.55},{"s":"1 bar CO2 (PlaHab)","lat":42.5,"T":299.5},{"s":"1 bar CO2 (PlaHab)","lat":47.5,"T":299.45},{"s":"1 bar CO2 (PlaHab)","lat":52.5,"T":299.4},{"s":"1 bar CO2 (PlaHab)","lat":57.5,"T":299.35},{"s":"1 bar CO2 (PlaHab)","lat":62.5,"T":299.3},{"s":"1 bar CO2 (PlaHab)","lat":67.5,"T":299.2},{"s":"1 bar CO2 (PlaHab)","lat":72.5,"T":299.1},{"s":"1 bar CO2 (PlaHab)","lat":77.5,"T":299.0},{"s":"1 bar CO2 (PlaHab)","lat":82.5,"T":298.95},{"s":"1 bar CO2 (PlaHab)","lat":87.5,"T":298.85},

      {"s":"1 bar CO2 (LMD)","lat":-88,"T":296.7},{"s":"1 bar CO2 (LMD)","lat":-86,"T":297.0},{"s":"1 bar CO2 (LMD)","lat":-82,"T":297.5},{"s":"1 bar CO2 (LMD)","lat":-78,"T":297.8},{"s":"1 bar CO2 (LMD)","lat":-74,"T":298.0},{"s":"1 bar CO2 (LMD)","lat":-70,"T":298.3},{"s":"1 bar CO2 (LMD)","lat":-66,"T":298.5},{"s":"1 bar CO2 (LMD)","lat":-62,"T":298.8},{"s":"1 bar CO2 (LMD)","lat":-58,"T":299.1},{"s":"1 bar CO2 (LMD)","lat":-54,"T":299.6},{"s":"1 bar CO2 (LMD)","lat":-50,"T":300.0},{"s":"1 bar CO2 (LMD)","lat":-46,"T":300.4},{"s":"1 bar CO2 (LMD)","lat":-42,"T":300.8},{"s":"1 bar CO2 (LMD)","lat":-38,"T":301.2},{"s":"1 bar CO2 (LMD)","lat":-34,"T":301.5},{"s":"1 bar CO2 (LMD)","lat":-30,"T":301.9},{"s":"1 bar CO2 (LMD)","lat":-26,"T":302.1},{"s":"1 bar CO2 (LMD)","lat":-22,"T":302.3},{"s":"1 bar CO2 (LMD)","lat":-18,"T":302.5},{"s":"1 bar CO2 (LMD)","lat":-14,"T":302.6},{"s":"1 bar CO2 (LMD)","lat":-10,"T":302.7},{"s":"1 bar CO2 (LMD)","lat":-6,"T":302.7},{"s":"1 bar CO2 (LMD)","lat":-2,"T":302.7},
      {"s":"1 bar CO2 (LMD)","lat":2,"T":302.6},{"s":"1 bar CO2 (LMD)","lat":6,"T":302.4},{"s":"1 bar CO2 (LMD)","lat":10,"T":302.2},{"s":"1 bar CO2 (LMD)","lat":14,"T":301.8},{"s":"1 bar CO2 (LMD)","lat":18,"T":301.2},{"s":"1 bar CO2 (LMD)","lat":22,"T":300.7},{"s":"1 bar CO2 (LMD)","lat":26,"T":300.2},{"s":"1 bar CO2 (LMD)","lat":30,"T":299.7},{"s":"1 bar CO2 (LMD)","lat":34,"T":299.2},{"s":"1 bar CO2 (LMD)","lat":38,"T":298.6},{"s":"1 bar CO2 (LMD)","lat":42,"T":297.7},{"s":"1 bar CO2 (LMD)","lat":46,"T":296.9},{"s":"1 bar CO2 (LMD)","lat":50,"T":296.2},{"s":"1 bar CO2 (LMD)","lat":54,"T":295.5},{"s":"1 bar CO2 (LMD)","lat":58,"T":295.1},{"s":"1 bar CO2 (LMD)","lat":62,"T":294.9},{"s":"1 bar CO2 (LMD)","lat":66,"T":294.7},{"s":"1 bar CO2 (LMD)","lat":70,"T":294.5},{"s":"1 bar CO2 (LMD)","lat":74,"T":294.3},{"s":"1 bar CO2 (LMD)","lat":78,"T":293.8},{"s":"1 bar CO2 (LMD)","lat":82,"T":293.2},{"s":"1 bar CO2 (LMD)","lat":86,"T":292.8},{"s":"1 bar CO2 (LMD)","lat":88,"T":292.5}
    ],
    "earth": [
      {"s":"Present Earth (PlaHab)","lat":-87.5,"T":256.7},{"s":"Present Earth (PlaHab)","lat":-82.5,"T":257.4},{"s":"Present Earth (PlaHab)","lat":-77.5,"T":259.0},{"s":"Present Earth (PlaHab)","lat":-72.5,"T":262.0},{"s":"Present Earth (PlaHab)","lat":-67.5,"T":265.7},{"s":"Present Earth (PlaHab)","lat":-62.5,"T":269.0},{"s":"Present Earth (PlaHab)","lat":-57.5,"T":273.8},{"s":"Present Earth (PlaHab)","lat":-52.5,"T":276.6},{"s":"Present Earth (PlaHab)","lat":-47.5,"T":280.7},{"s":"Present Earth (PlaHab)","lat":-42.5,"T":285.3},{"s":"Present Earth (PlaHab)","lat":-37.5,"T":288.0},{"s":"Present Earth (PlaHab)","lat":-32.5,"T":291.3},{"s":"Present Earth (PlaHab)","lat":-27.5,"T":294.6},{"s":"Present Earth (PlaHab)","lat":-22.5,"T":297.0},{"s":"Present Earth (PlaHab)","lat":-17.5,"T":299.1},{"s":"Present Earth (PlaHab)","lat":-12.5,"T":300.7},{"s":"Present Earth (PlaHab)","lat":-7.5,"T":301.6},{"s":"Present Earth (PlaHab)","lat":-2.5,"T":302.1},
      {"s":"Present Earth (PlaHab)","lat":2.5,"T":302.1},{"s":"Present Earth (PlaHab)","lat":7.5,"T":301.4},{"s":"Present Earth (PlaHab)","lat":12.5,"T":300.0},{"s":"Present Earth (PlaHab)","lat":17.5,"T":298.3},{"s":"Present Earth (PlaHab)","lat":22.5,"T":296.1},{"s":"Present Earth (PlaHab)","lat":27.5,"T":293.4},{"s":"Present Earth (PlaHab)","lat":32.5,"T":289.8},{"s":"Present Earth (PlaHab)","lat":37.5,"T":287.0},{"s":"Present Earth (PlaHab)","lat":42.5,"T":283.9},{"s":"Present Earth (PlaHab)","lat":47.5,"T":279.9},{"s":"Present Earth (PlaHab)","lat":52.5,"T":275.9},{"s":"Present Earth (PlaHab)","lat":57.5,"T":272.4},{"s":"Present Earth (PlaHab)","lat":62.5,"T":268.7},{"s":"Present Earth (PlaHab)","lat":67.5,"T":264.7},{"s":"Present Earth (PlaHab)","lat":72.5,"T":260.4},{"s":"Present Earth (PlaHab)","lat":77.5,"T":258.0},{"s":"Present Earth (PlaHab)","lat":82.5,"T":255.8},{"s":"Present Earth (PlaHab)","lat":87.5,"T":255.2},

      {"s":"Present Earth (Observations)","lat":-89.2,"T":228.8},{"s":"Present Earth (Observations)","lat":-87.6,"T":232.7},{"s":"Present Earth (Observations)","lat":-85.6,"T":236.5},{"s":"Present Earth (Observations)","lat":-83.3,"T":238.3},{"s":"Present Earth (Observations)","lat":-80.7,"T":238.6},{"s":"Present Earth (Observations)","lat":-77.7,"T":241.2},{"s":"Present Earth (Observations)","lat":-75.1,"T":245.3},{"s":"Present Earth (Observations)","lat":-73.1,"T":250.3},{"s":"Present Earth (Observations)","lat":-71.1,"T":256.4},{"s":"Present Earth (Observations)","lat":-69.5,"T":262.4},{"s":"Present Earth (Observations)","lat":-68.2,"T":265.5},{"s":"Present Earth (Observations)","lat":-65.2,"T":268.5},{"s":"Present Earth (Observations)","lat":-59.9,"T":272.9},{"s":"Present Earth (Observations)","lat":-56.0,"T":275.9},{"s":"Present Earth (Observations)","lat":-50.1,"T":280.6},{"s":"Present Earth (Observations)","lat":-44.1,"T":285.0},{"s":"Present Earth (Observations)","lat":-36.9,"T":289.4},{"s":"Present Earth (Observations)","lat":-29.7,"T":293.8},{"s":"Present Earth (Observations)","lat":-23.8,"T":296.6},{"s":"Present Earth (Observations)","lat":-17.2,"T":298.5},{"s":"Present Earth (Observations)","lat":-10.6,"T":299.6},{"s":"Present Earth (Observations)","lat":-0.7,"T":300.3},
      {"s":"Present Earth (Observations)","lat":2.6,"T":300.2},{"s":"Present Earth (Observations)","lat":8.5,"T":300.9},{"s":"Present Earth (Observations)","lat":13.1,"T":300.4},{"s":"Present Earth (Observations)","lat":19.7,"T":298.5},{"s":"Present Earth (Observations)","lat":26.2,"T":295.8},{"s":"Present Earth (Observations)","lat":29.5,"T":292.7},{"s":"Present Earth (Observations)","lat":34.8,"T":289.4},{"s":"Present Earth (Observations)","lat":40.7,"T":286.1},{"s":"Present Earth (Observations)","lat":47.9,"T":281.2},{"s":"Present Earth (Observations)","lat":54.4,"T":276.7},{"s":"Present Earth (Observations)","lat":60.3,"T":271.8},{"s":"Present Earth (Observations)","lat":66.2,"T":267.4},{"s":"Present Earth (Observations)","lat":72.8,"T":263.5},{"s":"Present Earth (Observations)","lat":80.0,"T":258.8},{"s":"Present Earth (Observations)","lat":83.9,"T":258.7},{"s":"Present Earth (Observations)","lat":88.9,"T":258.8}
    ]
  },
  "spacing": 34,
  "resolve": {"scale": {"color": "independent", "strokeDash": "independent"}},
  "vconcat": [
    {
      "spacing": 53,
      "resolve": {"scale": {"color": "independent", "strokeDash": "independent"}},
      "hconcat": [
        {
          "width": 906, "height": 617,
          "title": {"text": "Habitable Cases 1 and 2", "offset": 12},
          "data": {"name": "hab"},
          "mark": {"type": "line", "clip": true},
          "encoding": {
            "x": {"field": "lat", "type": "quantitative", "scale": {"domain": [-90, 90], "nice": false, "zero": false},
              "axis": {"values": [-80, -60, -40, -20, 0, 20, 40, 60, 80], "format": "d", "title": "Latitude (degrees)"}},
            "y": {"field": "T", "type": "quantitative", "scale": {"domain": [200, 305.2], "nice": false, "zero": false},
              "axis": {"values": [200, 220, 240, 260, 280, 300], "format": "d", "title": "Surface Temperature (K)"}},
            "color": {"field": "s", "type": "nominal",
              "scale": {"domain": ["Hab1 (PlaHab)", "Hab 1 (ROCKE-3D)", "Hab 2 (PlaHab)", "Hab2 (ROCKE-3D)"], "range": ["#bfbf00", "#bfbf00", "#0000ff", "#0000ff"]},
              "legend": {"title": null, "legendX": 279, "legendY": 426}},
            "strokeDash": {"field": "s", "type": "nominal",
              "scale": {"domain": ["Hab1 (PlaHab)", "Hab 1 (ROCKE-3D)", "Hab 2 (PlaHab)", "Hab2 (ROCKE-3D)"], "range": [[1, 0], [15, 6.5], [1, 0], [15, 6.5]]},
              "legend": {"title": null, "legendX": 279, "legendY": 426}}
          }
        },
        {
          "width": 906, "height": 626,
          "title": {"text": "Benchmark Cases 1 and 2", "offset": -6},
          "data": {"name": "ben"},
          "mark": {"type": "line", "clip": true},
          "encoding": {
            "x": {"field": "lat", "type": "quantitative", "scale": {"domain": [-90, 90], "nice": false, "zero": false},
              "axis": {"values": [-80, -60, -40, -20, 0, 20, 40, 60, 80], "format": "d", "title": "Latitude (degrees)"}},
            "y": {"field": "T", "type": "quantitative", "scale": {"domain": [180, 280], "nice": false, "zero": false},
              "axis": {"values": [180, 200, 220, 240, 260, 280], "format": "d", "title": "Surface Temperature (K)"}},
            "color": {"field": "s", "type": "nominal",
              "scale": {"domain": ["Ben1 (PlaHab)", "Ben 1 (ROCKE-3D)", "Ben 2 (PlaHab)", "Ben2 (ROCKE-3D)"], "range": ["#bfbf00", "#bfbf00", "#0000ff", "#0000ff"]},
              "legend": {"title": null, "legendX": 279, "legendY": 437}},
            "strokeDash": {"field": "s", "type": "nominal",
              "scale": {"domain": ["Ben1 (PlaHab)", "Ben 1 (ROCKE-3D)", "Ben 2 (PlaHab)", "Ben2 (ROCKE-3D)"], "range": [[1, 0], [15, 6.5], [1, 0], [15, 6.5]]},
              "legend": {"title": null, "legendX": 279, "legendY": 437}}
          }
        }
      ]
    },
    {
      "spacing": 41,
      "resolve": {"scale": {"color": "independent", "strokeDash": "independent"}},
      "hconcat": [
        {
          "width": 906, "height": 626,
          "title": {"text": "Proxima Centauri b", "offset": -2},
          "data": {"name": "prox"},
          "mark": {"type": "line", "clip": true},
          "encoding": {
            "x": {"field": "lat", "type": "quantitative", "scale": {"domain": [-90, 90], "nice": false, "zero": false},
              "axis": {"values": [-80, -60, -40, -20, 0, 20, 40, 60, 80], "format": "d", "title": "Latitude (degrees)"}},
            "y": {"field": "T", "type": "quantitative", "scale": {"domain": [180, 320], "nice": false, "zero": false},
              "axis": {"values": [180, 200, 220, 240, 260, 280, 300, 320], "format": "d", "title": "Surface Temperature (K)"}},
            "color": {"field": "s", "type": "nominal",
              "scale": {"domain": ["1 bar N2 376 ppm CO2 (PlaHab)", "1 bar N2 376 ppm CO2 (LMD)", "1 bar CO2 (PlaHab)", "1 bar CO2 (LMD)"], "range": ["#bfbf00", "#bfbf00", "#0000ff", "#0000ff"]},
              "legend": {"title": null, "legendX": 356, "legendY": 435}},
            "strokeDash": {"field": "s", "type": "nominal",
              "scale": {"domain": ["1 bar N2 376 ppm CO2 (PlaHab)", "1 bar N2 376 ppm CO2 (LMD)", "1 bar CO2 (PlaHab)", "1 bar CO2 (LMD)"], "range": [[1, 0], [15, 6.5], [1, 0], [15, 6.5]]},
              "legend": {"title": null, "legendX": 356, "legendY": 435}}
          }
        },
        {
          "width": 918, "height": 628,
          "title": {"text": "Present Earth", "offset": 11},
          "data": {"name": "earth"},
          "mark": {"type": "line", "clip": true},
          "encoding": {
            "x": {"field": "lat", "type": "quantitative", "scale": {"domain": [-90, 90], "nice": false, "zero": false},
              "axis": {"values": [-80, -60, -40, -20, 0, 20, 40, 60, 80], "format": "d", "title": "Latitude (degrees)"}},
            "y": {"field": "T", "type": "quantitative", "scale": {"domain": [220, 305], "nice": false, "zero": false},
              "axis": {"values": [220, 230, 240, 250, 260, 270, 280, 290, 300], "format": "d", "title": "Surface Temperature (K)"}},
            "color": {"field": "s", "type": "nominal",
              "scale": {"domain": ["Present Earth (PlaHab)", "Present Earth (Observations)"], "range": ["#0000ff", "#0000ff"]},
              "legend": {"title": null, "legendX": 404, "legendY": 521}},
            "strokeDash": {"field": "s", "type": "nominal",
              "scale": {"domain": ["Present Earth (PlaHab)", "Present Earth (Observations)"], "range": [[1, 0], [15, 6.5]]},
              "legend": {"title": null, "legendX": 404, "legendY": 521}}
          }
        }
      ]
    }
  ]
}
